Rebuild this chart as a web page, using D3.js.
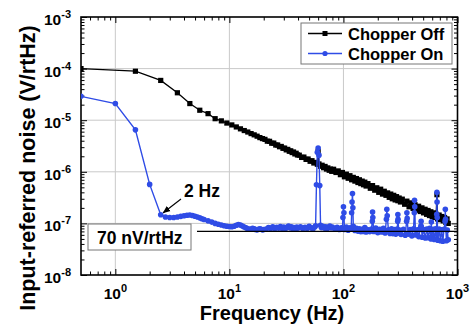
<!DOCTYPE html>
<html>
<head>
<meta charset="utf-8">
<script src="https://cdn.jsdelivr.net/npm/d3@7"></script>
<style>
  html, body { margin: 0; padding: 0; background: #fff; }
  svg { display: block; font-family: "Liberation Sans", Arial, Helvetica, sans-serif; font-weight: bold; }
</style>
</head>
<body>
<svg id="chart" width="474" height="325"></svg>
<script>
// Chopper off spectrum: frequency (Hz) and noise (nV/rtHz)
const offFreq = [
  0.5, 1.5, 2.5, 3.5, 4.5, 5.5, 6.5, 7.5, 8.5, 9.5, 10.5, 11.5, 12.5, 13.5, 14.5, 15.5, 16.5, 17.5, 18.5, 19.5,
  20.5, 21.5, 22.5, 23.5, 24.5, 25.5, 26.5, 27.5, 28.5, 29.5, 30.5, 31.5, 32.5, 33.5, 34.5, 35.5, 36.5, 37.5, 38.5, 39.5,
  41, 43, 45, 47, 49, 51, 53, 55, 57, 59, 60, 61, 63, 65, 67, 69, 71, 73, 75, 77, 79,
  82, 86, 90, 94, 98, 102, 106, 110, 114, 118, 122, 126, 130, 134, 138, 142, 146, 150, 154, 158,
  164, 172, 180, 188, 196, 204, 212, 220, 228, 236, 244, 252, 260, 268, 276, 284, 292, 300, 308, 316,
  328, 344, 360, 376, 392, 408, 424, 440, 456, 472, 488, 504, 520, 536, 552, 568, 584, 600, 616, 632,
  650, 660, 670, 690, 710, 730, 750, 770, 790, 810, 830
];
const offNoiseNV = [
  100000, 89000, 59000, 34000, 21000, 15600, 13400, 10700, 9700, 8800, 8100, 7400, 6800, 6300, 5900, 5500, 5200, 4900, 4600, 4400,
  4250, 3920, 3900, 3580, 3600, 3300, 3310, 3060, 3100, 2850, 2880, 2660, 2720, 2500, 2550, 2360, 2420, 2220, 2290, 2120,
  2100, 1900, 1930, 1740, 1770, 1600, 1640, 1480, 1520, 1400, 2500, 1420, 1280, 1340, 1200, 1270, 1130, 1190, 1070, 1130, 1020,
  1120, 970, 1040, 880, 970, 800, 900, 750, 840, 700, 780, 660, 740, 620, 700, 590, 660, 560, 630, 530,
  590, 480, 540, 440, 490, 400, 460, 370, 420, 350, 390, 320, 370, 300, 350, 285, 330, 275, 310, 260,
  295, 235, 270, 210, 250, 195, 230, 180, 215, 170, 200, 160, 188, 150, 178, 142, 168, 135, 160, 130,
  150, 360, 122, 145, 118, 136, 112, 130, 105, 122, 100
];

// Chopper on spectrum
const onFreq = [
  0.5, 1, 1.5, 2, 2.5, 2.75, 3, 3.25, 3.5, 3.75, 4, 4.25, 4.5, 4.75, 5, 5.25, 5.5, 5.75, 6, 6.5, 7, 7.5, 8, 8.5, 9, 9.5, 10,
  10.5, 11, 11.5, 12, 12.5, 13, 13.5, 14, 14.5, 15, 15.5, 16, 16.5, 17, 17.5, 18, 18.5, 19, 19.5, 20,
  21, 22, 23, 24, 25, 26, 27, 28, 29, 30, 31, 32, 33, 34, 35, 36, 37, 38, 39, 40,
  42, 44, 46, 48, 50, 52, 54, 56, 57, 58, 59, 60, 61, 62, 63, 64, 66, 68, 70, 72, 74, 76, 78, 80,
  84, 88, 92, 96, 98, 99, 100, 101, 102, 106, 110, 114, 117, 118, 119, 120, 121, 122, 126, 130, 134, 138, 142, 146, 150, 154, 158,
  162, 170, 176, 179, 180, 181, 184, 192, 200, 208, 216, 224, 232, 238, 240, 242, 248, 256, 264, 272, 280, 288, 296, 299, 300, 301, 306, 312, 320,
  336, 348, 358, 360, 362, 370, 384, 398, 412, 418, 420, 422, 428, 444, 458, 472, 478, 480, 482, 490, 506, 522, 538, 554, 570, 586, 590, 594, 610, 626, 642,
  654, 658, 660, 662, 664, 672, 690, 708, 726, 744, 762, 778, 782, 786, 798, 814, 830
];
const onNoiseNV = [
  29000, 21000, 6500, 570, 147, 133, 130, 130, 133, 137, 141, 144, 145, 142, 138, 133, 128, 123, 119, 112, 106, 100, 96, 93, 90, 88, 87,
  86, 88, 92, 95, 93, 89, 85, 82, 79, 77, 78, 80, 79, 76, 75, 77, 79, 77, 75, 76,
  78, 83, 80, 86, 79, 84, 81, 87, 80, 85, 79, 84, 89, 82, 86, 79, 83, 78, 85, 81,
  86, 79, 84, 80, 88, 82, 78, 85, 90, 560, 2400, 2900, 2100, 540, 92, 83, 88, 81, 86, 79, 84, 89, 82, 85,
  78, 84, 76, 82, 81, 130, 210, 160, 76, 85, 74, 82, 79, 160, 260, 380, 200, 88, 73, 80, 71, 79, 69, 77, 70, 83, 68,
  76, 69, 78, 110, 166, 130, 70, 81, 66, 77, 68, 80, 65, 120, 187, 140, 75, 64, 79, 63, 76, 62, 78, 110, 149, 120, 65, 74, 61,
  77, 59, 110, 161, 125, 62, 76, 57, 79, 160, 280, 210, 60, 75, 55, 80, 90, 110, 85, 54, 76, 52, 78, 53, 80, 50, 106, 55, 77, 49, 79,
  50, 150, 400, 260, 130, 47, 78, 46, 75, 45, 77, 110, 187, 120, 46, 74, 48
];

const xTickExp = [0, 1, 2, 3];
const yTickExp = [-8, -7, -6, -5, -4, -3];
const floorNV = 70;          // chopper-on noise floor
const floorStartHz = 5.2;
const cornerHz = 2.5;        // point marked by the "2 Hz" arrow
const seriesNames = ["Chopper Off", "Chopper On"];

const blue = "#2f4ce6";
const svg = d3.select("#chart");
const plotL = 81, plotR = 457.5, plotT = 17, plotB = 275;

const x = d3.scaleLog().domain([0.5, 1000]).range([plotL, plotR]);
const y = d3.scaleLog().domain([1e-8, 1e-3]).range([plotB, plotT]);

const offData = offFreq.map((f, i) => ({f, v: offNoiseNV[i] * 1e-9}));
const onData = onFreq.map((f, i) => ({f, v: onNoiseNV[i] * 1e-9}));

// minor tick positions (2..9 per decade)
const xMinor = [], yMinor = [];
for (let e = -1; e <= 2; e++) for (let m = 2; m <= 9; m++) {
  const v = m * Math.pow(10, e);
  if (v > 0.5 && v < 1000) xMinor.push(v);
}
for (let e = -8; e <= -4; e++) for (let m = 2; m <= 9; m++) yMinor.push(m * Math.pow(10, e));
const xMajor = xTickExp.map(e => Math.pow(10, e));
const yMajor = yTickExp.map(e => Math.pow(10, e));

// grid
const grid = svg.append("g").attr("stroke", "#c9c9c9").attr("stroke-width", 1);
grid.selectAll(".gx").data(xMajor.filter(v => v < 1000)).join("line")
  .attr("x1", d => x(d)).attr("x2", d => x(d)).attr("y1", plotT).attr("y2", plotB);
grid.selectAll(".gy").data(yMajor.filter(v => v > 1e-8 && v < 1e-3)).join("line")
  .attr("y1", d => y(d)).attr("y2", d => y(d)).attr("x1", plotL).attr("x2", plotR);

// inward ticks on all four sides
function ticks(axis, transform, values, size) {
  const g = svg.append("g").attr("transform", transform)
    .call(axis.tickValues(values).tickSizeInner(-size).tickSizeOuter(0).tickFormat(""));
  g.select(".domain").remove();
  g.selectAll(".tick line").attr("stroke", "#000").attr("stroke-width", 1);
}
[[xMajor, 6], [xMinor, 3.5]].forEach(([vals, s]) => {
  ticks(d3.axisBottom(x), `translate(0,${plotB})`, vals, s);
  ticks(d3.axisTop(x), `translate(0,${plotT})`, vals, s);
});
[[yMajor, 6], [yMinor, 3.5]].forEach(([vals, s]) => {
  ticks(d3.axisLeft(y), `translate(${plotL},0)`, vals, s);
  ticks(d3.axisRight(y), `translate(${plotR},0)`, vals, s);
});

svg.append("rect").attr("x", plotL).attr("y", plotT).attr("width", plotR - plotL).attr("height", plotB - plotT)
  .attr("fill", "none").attr("stroke", "#000").attr("stroke-width", 1.6);

// tick labels as 10^n
function powLabel(g, exp) {
  g.append("tspan").text("10");
  g.append("tspan").attr("dy", -7).attr("font-size", 11).text(exp);
}
xTickExp.forEach(e => {
  const t = svg.append("text").attr("x", x(Math.pow(10, e))).attr("y", 298.5)
    .attr("text-anchor", "middle").attr("font-size", 15.5);
  powLabel(t, e);
});
yTickExp.forEach(e => {
  const t = svg.append("text").attr("x", 71).attr("y", y(Math.pow(10, e)) + 8)
    .attr("text-anchor", "end").attr("font-size", 15.5);
  powLabel(t, e);
});

// axis titles
svg.append("text").attr("x", 272).attr("y", 320).attr("text-anchor", "middle")
  .attr("font-size", 20).text("Frequency (Hz)");
svg.append("text").attr("transform", "translate(35,168) rotate(-90)").attr("text-anchor", "middle")
  .attr("font-size", 21.5).text("Input-referred noise (V/rtHz)");

// series
svg.append("clipPath").attr("id", "plot").append("rect")
  .attr("x", plotL).attr("y", plotT).attr("width", plotR - plotL).attr("height", plotB - plotT);
const plot = svg.append("g").attr("clip-path", "url(#plot)");
const line = d3.line().x(d => x(d.f)).y(d => y(d.v));

plot.append("path").datum(offData).attr("d", line)
  .attr("fill", "none").attr("stroke", "#000").attr("stroke-width", 1.3);
plot.append("g").selectAll("rect").data(offData).join("rect")
  .attr("x", d => x(d.f) - 2.6).attr("y", d => y(d.v) - 2.6)
  .attr("width", 5.2).attr("height", 5.2).attr("fill", "#000");

plot.append("path").datum(onData).attr("d", line)
  .attr("fill", "none").attr("stroke", blue).attr("stroke-width", 1.4);
plot.append("g").selectAll("circle").data(onData).join("circle")
  .attr("cx", d => x(d.f)).attr("cy", d => y(d.v)).attr("r", 2.8).attr("fill", blue);

// noise floor reference
const yFloor = y(floorNV * 1e-9);
plot.append("line").attr("x1", x(floorStartHz)).attr("x2", plotR).attr("y1", yFloor).attr("y2", yFloor)
  .attr("stroke", "#000").attr("stroke-width", 1.3);
svg.append("rect").attr("x", 88).attr("y", 224).attr("width", 103).attr("height", 26)
  .attr("fill", "#fff").attr("stroke", "#777").attr("stroke-width", 1);
svg.append("text").attr("x", 97).attr("y", 243.5).attr("font-size", 17.5).text(floorNV + " nV/rtHz");

// corner annotation
const corner = onData.find(d => d.f === cornerHz);
const cx = x(corner.f), cy = y(corner.v);
svg.append("defs").append("marker").attr("id", "head").attr("viewBox", "0 0 10 10")
  .attr("refX", 9).attr("refY", 5).attr("markerWidth", 7).attr("markerHeight", 7)
  .attr("orient", "auto").append("path").attr("d", "M0,1 L10,5 L0,9 Z").attr("fill", "#000");
svg.append("line").attr("x1", 181).attr("y1", 199).attr("x2", cx + 2.5).attr("y2", cy - 2)
  .attr("stroke", "#000").attr("stroke-width", 1.1).attr("marker-end", "url(#head)");
svg.append("text").attr("x", 184).attr("y", 197).attr("font-size", 17.5).text("2 Hz");

// legend
const lg = svg.append("g");
lg.append("rect").attr("x", 301).attr("y", 23).attr("width", 151).attr("height", 41)
  .attr("fill", "#fff").attr("stroke", "#777").attr("stroke-width", 1);
seriesNames.forEach((name, i) => {
  const ly = 33.5 + i * 20;
  const col = i === 0 ? "#000" : blue;
  lg.append("line").attr("x1", 308).attr("x2", 342).attr("y1", ly).attr("y2", ly)
    .attr("stroke", col).attr("stroke-width", 1.3);
  if (i === 0) lg.append("rect").attr("x", 322.5).attr("y", ly - 2.5).attr("width", 5).attr("height", 5).attr("fill", col);
  else lg.append("circle").attr("cx", 325).attr("cy", ly).attr("r", 2.6).attr("fill", col);
  lg.append("text").attr("x", 348).attr("y", ly + 6).attr("font-size", 16.5).text(name);
});
</script>
</body>
</html>
